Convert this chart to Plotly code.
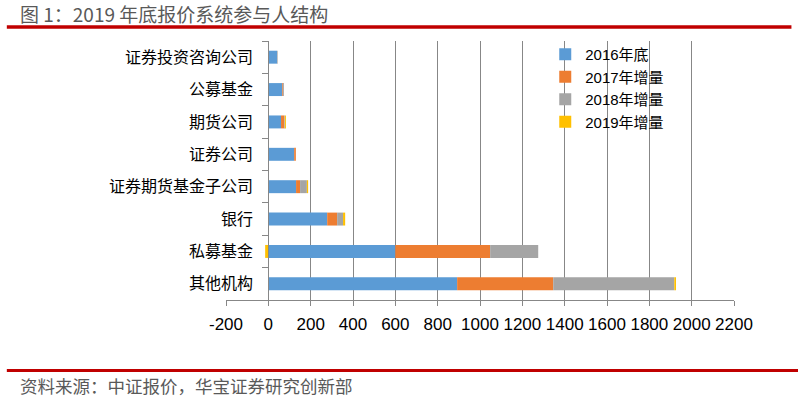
import plotly.graph_objects as go

categories = ["证券投资咨询公司", "公募基金", "期货公司", "证券公司",
              "证券期货基金子公司", "银行", "私募基金", "其他机构"]
series_names = ["2016年底", "2017年增量", "2018年增量", "2019年增量"]
v2016 = [41, 66, 60, 122, 131, 278, 600, 892]
v2017 = [0, 4, 15, 8, 19, 47, 448, 454]
v2018 = [3, 4, 3, 0, 32, 28, 227, 572]
v2019 = [0, 0, 5, 0, 6, 10, -15, 8]
x_ticks = list(range(-200, 2201, 200))

colors = ["#5B9BD5", "#ED7D31", "#A5A5A5", "#FFC000"]
series_values = [v2016, v2017, v2018, v2019]

W, H = 798, 410
L, R, T, B = 226.0, 733.6, 41.0, 300.0


def px(x):
    return (x - L) / (R - L)


def py(y):
    return (B - y) / (B - T)


CJK = "Liberation Sans, Noto Sans CJK SC, sans-serif"

fig = go.Figure()
for i, (name, vals) in enumerate(zip(series_names, series_values)):
    fig.add_trace(go.Bar(
        y=categories, x=vals, name=name, orientation="h",
        marker=dict(color=colors[i], line=dict(width=0)),
        legendgroup=name,
    ))

fig.update_layout(
    width=W, height=H,
    margin=dict(l=L, r=W - R, t=T, b=H - B, pad=0),
    barmode="relative",
    bargap=0.6,
    plot_bgcolor="white",
    paper_bgcolor="white",
    font=dict(family=CJK, color="#000000"),
    showlegend=True,
    legend=dict(
        x=px(545), y=py(38), xanchor="left", yanchor="top",
        bgcolor="rgba(0,0,0,0)", borderwidth=0,
        font=dict(size=15, family=CJK, color="#000000"),
        traceorder="grouped", tracegroupgap=0,
    ),
    xaxis=dict(
        range=[-200, 2200],
        tickvals=x_ticks, ticktext=[str(t) for t in x_ticks],
        showgrid=True, gridcolor="#878787", gridwidth=1,
        zeroline=False,
        showline=True, linecolor="#878787", linewidth=1,
        ticks="outside", ticklen=5, tickcolor="#878787",
        tickfont=dict(size=17, family="Liberation Sans", color="#000000"),
        ticklabelstandoff=4,
        fixedrange=True,
    ),
    yaxis=dict(
        type="category", autorange="reversed",
        anchor="free", position=px(268.3),
        showline=True, linecolor="#878787", linewidth=1,
        showgrid=False, zeroline=False,
        ticks="outside", tickson="boundaries", ticklen=6, tickcolor="#878787",
        tickfont=dict(size=16, family="Noto Sans CJK SC", color="#000000"),
        ticklabelstandoff=12,
        fixedrange=True,
    ),
)

# decorative red rules
fig.add_shape(type="line", xref="paper", yref="paper",
              x0=px(7), x1=px(791), y0=py(27), y1=py(27),
              line=dict(color="#C00000", width=3.5))
fig.add_shape(type="line", xref="paper", yref="paper",
              x0=px(7), x1=px(798), y0=py(370.5), y1=py(370.5),
              line=dict(color="#C00000", width=3))

fig.add_annotation(text="图 1：2019 年底报价系统参与人结构",
                   xref="paper", yref="paper", x=px(18), y=py(13),
                   xanchor="left", yanchor="middle", showarrow=False,
                   font=dict(size=19, family="Noto Sans CJK SC", color="#595959"))
fig.add_annotation(text="资料来源：中证报价，华宝证券研究创新部",
                   xref="paper", yref="paper", x=px(18), y=py(385),
                   xanchor="left", yanchor="middle", showarrow=False,
                   font=dict(size=17.5, family="Noto Sans CJK SC", color="#595959"))

fig.write_html("out.html",
               config={"displayModeBar": False, "staticPlot": True},
               post_script="document.body.style.margin='0';document.body.style.padding='0';")
